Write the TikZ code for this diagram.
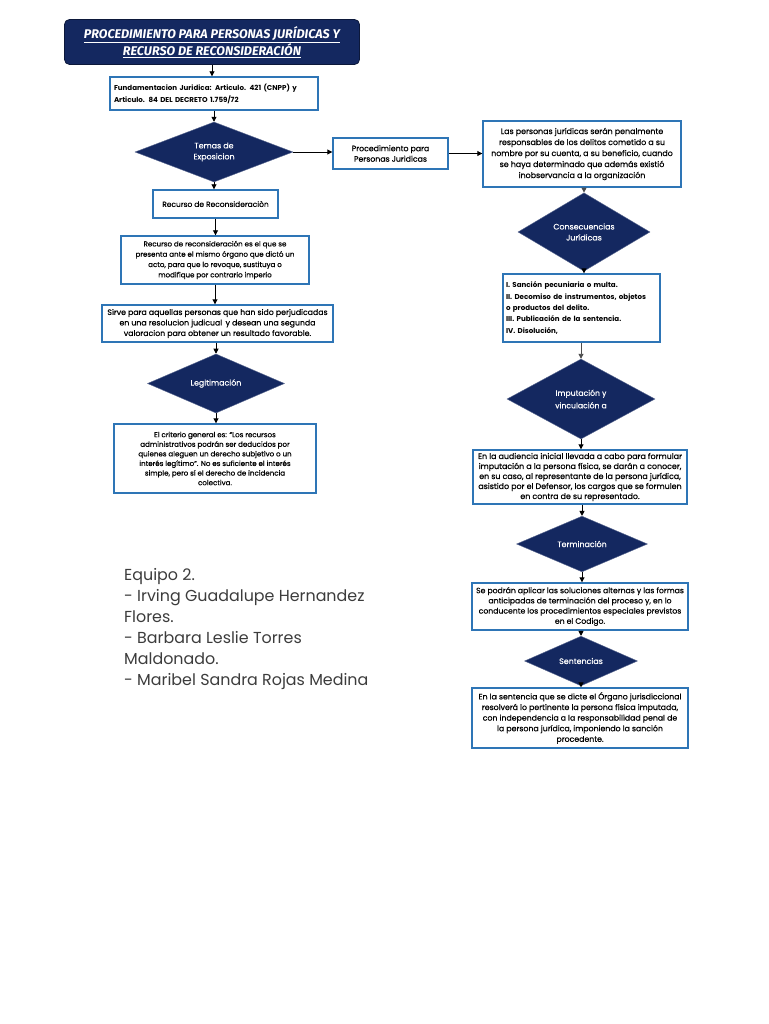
\documentclass[tikz,border=0pt]{standalone}
\usepackage{fontspec}
\setmainfont{Poppins}
\newfontfamily\medfont{Poppins}[FakeBold=0.5]
\newfontfamily\titlefont{Fira Sans}
\usetikzlibrary{shapes.geometric,arrows.meta}
\definecolor{navy}{RGB}{20,40,96}
\definecolor{boxblue}{RGB}{46,117,182}
\definecolor{teamgray}{RGB}{60,60,60}
\newcommand{\fsz}[2]{\fontsize{#1}{#2}\selectfont}
\begin{document}
\begin{tikzpicture}[x=1pt,y=-1pt,
  box/.style={draw=boxblue,line width=1.4pt,fill=white,inner sep=2pt,align=center},
  lbox/.style={box,align=left},
  dia/.style={diamond,fill=navy,draw=navy!70!white,line width=0.4pt,inner sep=0pt,align=center,
    text=white,font=\medfont\fsz{7.9}{11}},
  arr/.style={-{Triangle[length=5pt,width=5pt]},line width=0.9pt,black},
]
\useasboundingbox[fill=white] (0,0) rectangle (768,1024);

% title
\node[rounded corners=5pt,fill=navy,draw=navy!60!black,line width=0.8pt,minimum width=295pt,minimum height=45pt,
  text=white,align=center,font=\titlefont\bfseries\itshape\fsz{12.6}{15}] (title) at (212,42)
  {\underline{PROCEDIMIENTO PARA PERSONAS JURÍDICAS Y}\\\underline{RECURSO DE RECONSIDERACIÓN}};

% left column
\node[lbox,minimum width=208pt,minimum height=33pt,text width=200pt,font=\bfseries\fsz{7.1}{12}] (fund) at (214,93.5)
  {Fundamentacion Juridica: Articulo. 421 (CNPP) y\\Articulo. 84 DEL DECRETO 1.759/72};
\node[dia,minimum width=158pt,minimum height=50pt] (temas) at (214,152) {Temas de\\Exposicion};
\node[box,minimum width=125pt,minimum height=28pt,font=\medfont\fsz{7.5}{10}] (recurso) at (215.5,204) {Recurso de Reconsideraciòn};
\node[box,minimum width=188pt,minimum height=48pt,font=\medfont\fsz{7.1}{10.3}] (rdef) at (215,260)
  {Recurso de reconsideración es el que se\\presenta ante el mismo órgano que dictó un\\acto, para que lo revoque, sustituya o\\modifique por contrario imperio};
\node[box,minimum width=231pt,minimum height=37pt,font=\medfont\fsz{7.8}{10.5}] (sirve) at (217.5,323.5)
  {Sirve para aquellas personas que han sido perjudicadas\\en una resolucion judicual\, y desean una segunda\\valoracion para obtener un resultado favorable.};
\node[dia,minimum width=137pt,minimum height=47pt] (legit) at (216,383.5) {Legitimación};
\node[box,minimum width=202pt,minimum height=69pt,font=\medfont\fsz{7.1}{9.6}] (crit) at (215,458.5)
  {El criterio general es: “Los recursos\\administrativos podrán ser deducidos por\\quienes aleguen un derecho subjetivo o un\\interés legítimo”. No es suficiente el interés\\simple, pero sí el derecho de incidencia\\colectiva.};

% middle
\node[box,minimum width=115pt,minimum height=31pt,font=\medfont\fsz{7.8}{10.5}] (proc) at (390.5,153.5) {Procedimiento para\\Personas Juridicas};

% right column
\node[box,minimum width=198pt,minimum height=66pt,font=\medfont\fsz{7.9}{11}] (rtop) at (582,154)
  {Las personas jurídicas serán penalmente\\responsables de los delitos cometido a su\\nombre por su cuenta, a su beneficio, cuando\\se haya determinado que además existió\\inobservancia a la organización};
\node[dia,minimum width=132pt,minimum height=46pt] (cons) at (584,232) {Consecuencias\\Jurídicas};
\node[lbox,minimum width=157pt,minimum height=68pt,text width=151pt,font=\bfseries\fsz{7.1}{11.4}] (sanc) at (581.5,308)
  {I. Sanción pecuniaria o multa.\\II. Decomiso de instrumentos, objetos\\o productos del delito.\\III. Publicación de la sentencia.\\IV. Disolución,};
\node[dia,minimum width=148pt,minimum height=80pt,font=\medfont\fsz{7.7}{12.5}] (imp) at (581,399) {Imputación y\\vinculación a};
\node[box,minimum width=214pt,minimum height=54pt,font=\medfont\fsz{7.9}{10}] (aud) at (580,477)
  {En la audiencia inicial llevada a cabo para formular\\imputación a la persona física, se darán a conocer,\\en su caso, al representante de la persona jurídica,\\asistido por el Defensor, los cargos que se formulen\\en contra de su representado.};
\node[dia,minimum width=131pt,minimum height=52pt] (term) at (582,544) {Terminación};
\node[box,minimum width=216pt,minimum height=47pt,font=\medfont\fsz{7.7}{10.2}] (sepod) at (580,606.5)
  {Se podrán aplicar las soluciones alternas y las formas\\anticipadas de terminación del proceso y, en lo\\conducente los procedimientos especiales previstos\\en el Codigo.};
\node[dia,minimum width=113pt,minimum height=34pt] (sent) at (581,661) {Sentencias};
\node[box,minimum width=216pt,minimum height=60pt,font=\medfont\fsz{7.8}{10.6}] (enla) at (580,718)
  {En la sentencia que se dicte el Órgano jurisdiccional\\resolverá lo pertinente la persona física imputada,\\con independencia a la responsabilidad penal de\\la persona jurídica, imponiendo la sanción\\procedente.};

% team
\node[anchor=north west,align=left,inner sep=0pt,text=teamgray,font=\fsz{15.9}{21}] (team) at (124,568)
  {Equipo 2.\\- Irving Guadalupe Hernandez\\Flores.\\- Barbara Leslie Torres\\Maldonado.\\- Maribel Sandra Rojas Medina};

% connectors
\draw[arr] (title.south) -- (title.south |- fund.north);
\draw[arr] (fund.south -| temas.north) -- (temas.north);
\draw[arr] (temas.south) -- (temas.south |- recurso.north);
\draw[arr] (recurso.south) -- (recurso.south |- rdef.north);
\draw[arr] (rdef.south) -- (rdef.south |- sirve.north);
\draw[arr] (sirve.south -| legit.north) -- (legit.north);
\draw[arr] (legit.south) -- (legit.south |- crit.north);
\draw[arr] (temas.east) -- (temas.east -| proc.west);
\draw[arr] (proc.east) -- (proc.east -| rtop.west);
\draw[arr,black!70] (rtop.south -| cons.north) -- (cons.north);
\draw[arr] (cons.south) -- (cons.south |- sanc.north);
\draw[arr,black!70] (sanc.south -| imp.north) -- (imp.north);
\draw[arr] (imp.south) -- (imp.south |- aud.north);
\draw[arr] (aud.south -| term.north) -- (term.north);
\draw[arr] (term.south) -- (term.south |- sepod.north);
\draw[arr] (sepod.south -| sent.north) -- (sent.north);
\draw[arr] (sent.south) -- (sent.south |- enla.north);
\end{tikzpicture}
\end{document}
